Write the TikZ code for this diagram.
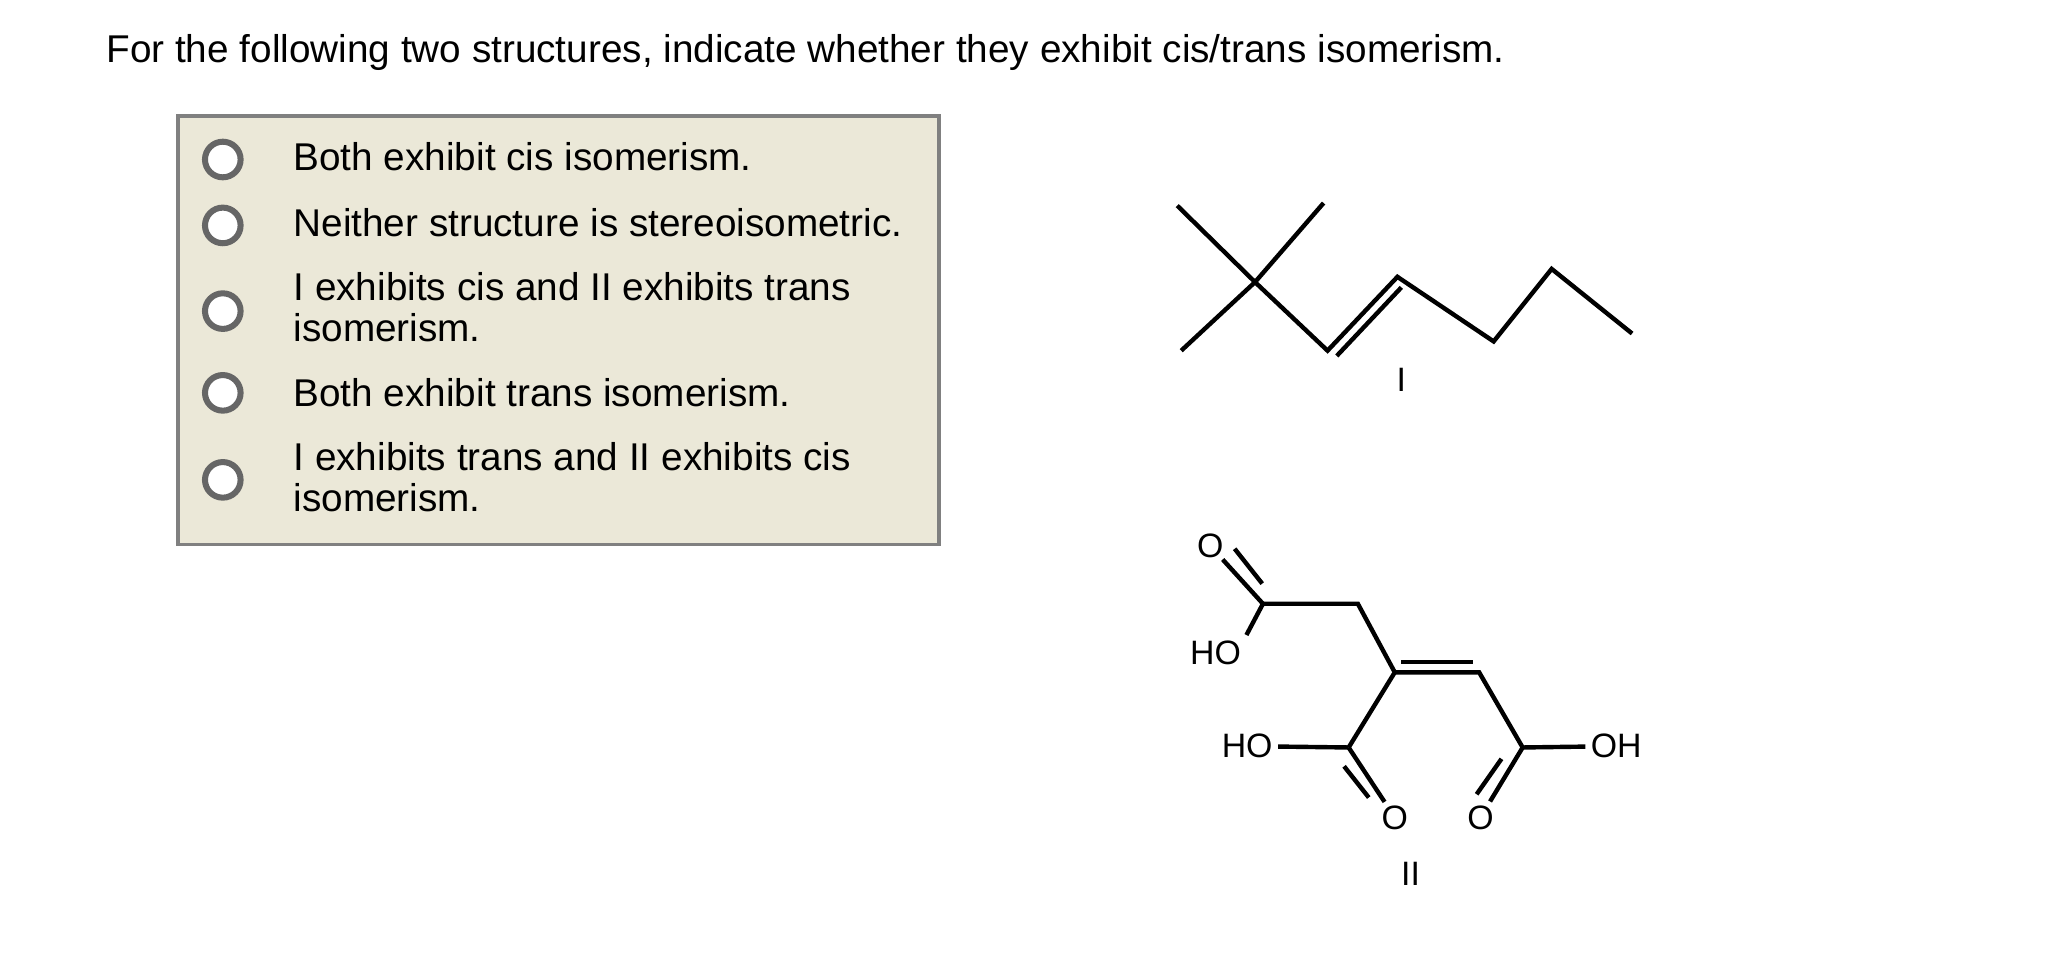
\documentclass[tikz,border=0pt]{standalone}
\usepackage{fontspec}
\setmainfont{Liberation Sans}
\usetikzlibrary{calc}
\begin{document}
\begin{tikzpicture}[x=0.01cm,y=-0.01cm,
  txt/.style={anchor=west,font=\fontsize{8.35}{9}\selectfont,inner sep=0,align=left},
  radio/.style={circle,draw=gray!80!black,line width=1.3pt,fill=white,minimum size=0.27cm,inner sep=0},
  bond/.style={line width=0.95pt},
  atom/.style={font=\fontsize{7.3}{8}\selectfont,inner sep=1pt}]
\useasboundingbox (0,0) rectangle (1552,740);
\node[txt] (hdr) at (80,40) {For the following two structures, indicate whether they exhibit cis/trans isomerism.};
\filldraw[fill={rgb,255:red,235;green,232;blue,216},draw=gray,line width=0.8pt] (135,88) rectangle (712,413);
\foreach \n/\y in {a/121,b/171,c/236,d/298,e/364} \node[radio] (r\n) at (169,\y) {};
\node[txt] (t1) at (222,119) {Both exhibit cis isomerism.};
\node[txt] (t2) at (222,169) {Neither structure is stereoisometric.};
\node[txt] (t3) at (222,233) {I exhibits cis and II exhibits trans\\isomerism.};
\node[txt] (t4) at (222,298) {Both exhibit trans isomerism.};
\node[txt] (t5) at (222,362) {I exhibits trans and II exhibits cis\\isomerism.};
% Structure I
\coordinate (q) at (952,214);
\draw[bond] (893,156) -- (q) -- (1004,154);
\draw[bond] (896,266) -- (q) -- (1007,266) -- (1060,210) -- (1133,259) -- (1177,204) -- (1238,253);
\draw[bond] (1014,270) -- (1063,218);
\node[atom] (lI) at (1063,288) {I};
% Structure II
\node[atom] (o1) at (918,414) {O};
\coordinate (c1) at (958,458);
\coordinate (c2) at (1030,458);
\coordinate (cc) at (1058,510);
\coordinate (cd) at (1122,510);
\coordinate (c3) at (1155,567);
\coordinate (c4) at (1023,567);
\node[atom] (ho1) at (922,495) {HO};
\node[atom] (ho2) at (946,566) {HO};
\node[atom] (oh) at (1226,566) {OH};
\node[atom] (o2) at (1058,620) {O};
\node[atom] (o3) at (1123,620) {O};
\draw[bond,shorten <=4pt] (o1.center) -- (c1);
\draw[bond,shorten <=3pt,shorten >=3pt] ($(o1.center)+(12,-6)$) -- ($(c1)+(6,-7)$);
\draw[bond] (ho1.north east) -- (c1) -- (c2) -- (cc) -- (cd) -- (c3) -- (oh);
\draw[bond] ($(cc)+(5,-8)$) -- ($(cd)+(-5,-8)$);
\draw[bond,shorten >=4pt] (c3) -- (o3.center);
\draw[bond,shorten <=3pt,shorten >=4pt] ($(c3)+(-10,0)$) -- ($(o3.center)+(-11,-6)$);
\draw[bond] (cc) -- (c4);
\draw[bond,shorten >=4pt] (c4) -- (o2.center);
\draw[bond] (ho2) -- (c4);
\draw[bond,shorten <=3pt,shorten >=4pt] ($(c4)+(-10,6)$) -- ($(o2.center)+(-11,-4)$);
\node[atom] (lII) at (1070,663) {II};
\end{tikzpicture}
\end{document}
